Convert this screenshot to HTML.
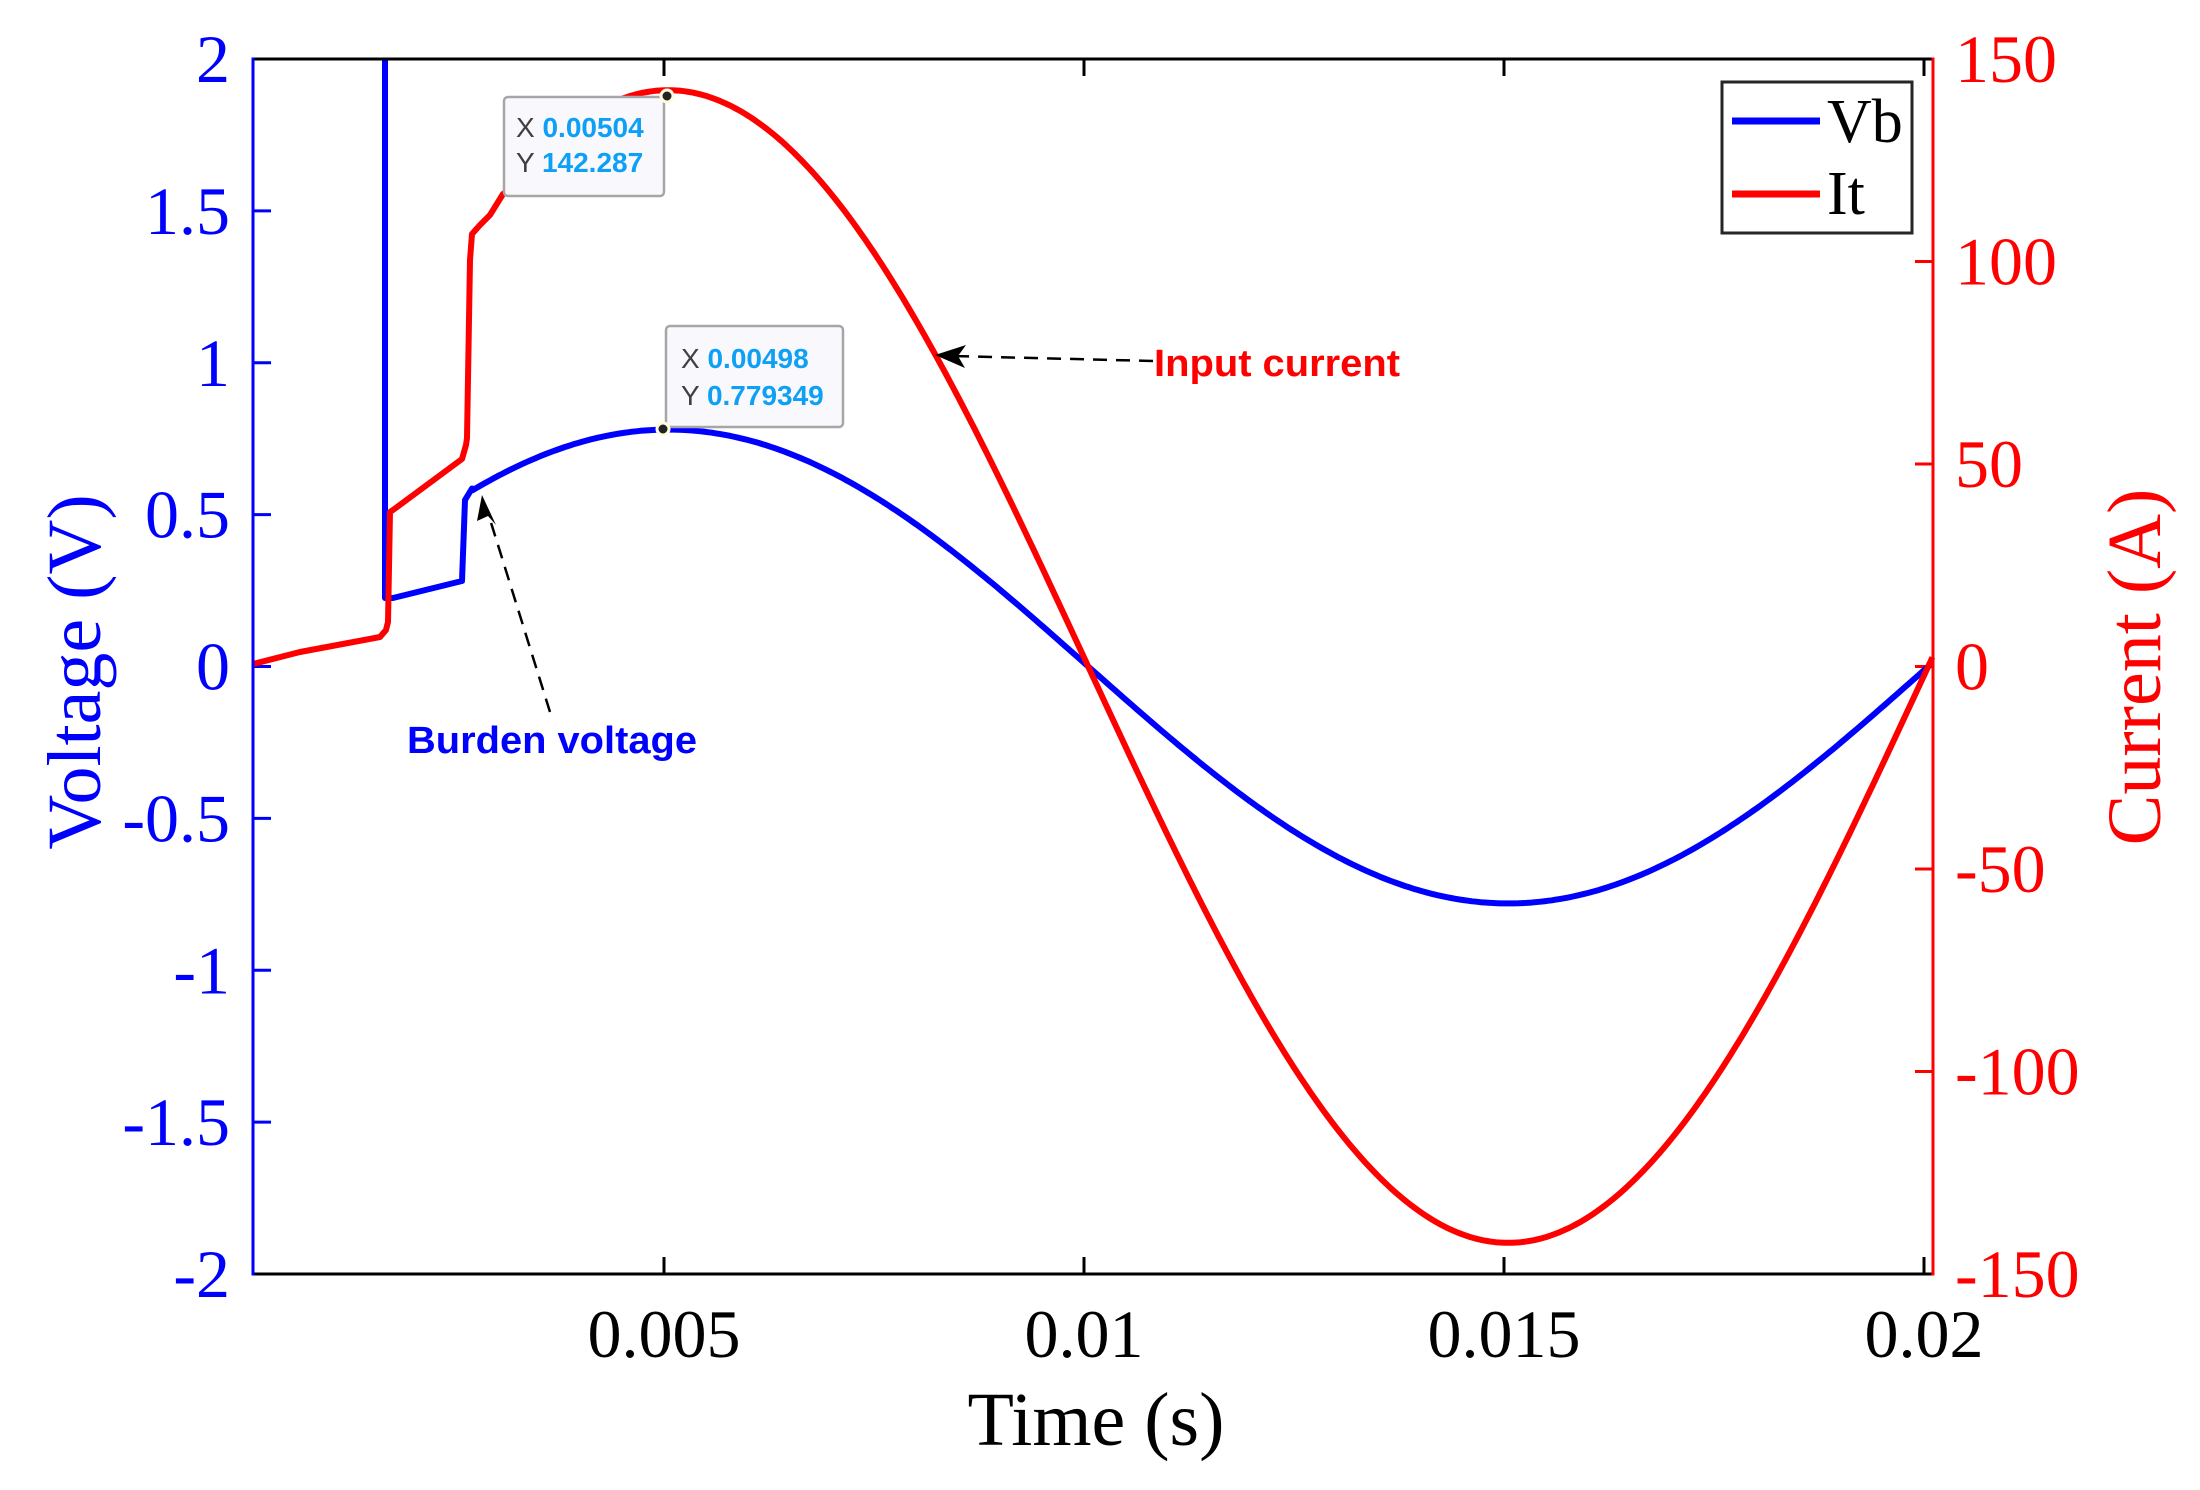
<!DOCTYPE html>
<html><head><meta charset="utf-8"><style>
html,body{margin:0;padding:0;background:#fff;}
svg{display:block;}
.tk{font-family:"Liberation Serif",serif;font-size:68px;}
.lab{font-family:"Liberation Serif",serif;font-size:76px;}
.dt{font-family:"Liberation Sans",sans-serif;font-size:28px;}
.ann{font-family:"Liberation Sans",sans-serif;font-size:38px;font-weight:bold;}
</style></head><body>
<svg id="s" width="2200" height="1490" viewBox="0 0 2200 1490" xmlns="http://www.w3.org/2000/svg">
<rect width="2200" height="1490" fill="#fff"/>
<g id="ticks"></g>
<path id="vb" fill="none" stroke="#0000ff" stroke-width="6" stroke-linejoin="round"/>
<path id="it" fill="none" stroke="#ff0000" stroke-width="6" stroke-linejoin="round"/>
<!-- axes -->
<line x1="253" y1="59" x2="1933" y2="59" stroke="#000" stroke-width="3"/>
<line x1="253" y1="1274" x2="1933" y2="1274" stroke="#000" stroke-width="3"/>
<line x1="253" y1="57.5" x2="253" y2="1275.5" stroke="#0000ff" stroke-width="3"/>
<line x1="1933" y1="57.5" x2="1933" y2="1275.5" stroke="#ff0000" stroke-width="3"/>
<g id="labels"></g>
<text class="lab" x="1096" y="1445" text-anchor="middle" fill="#000">Time (s)</text>
<text class="lab" transform="translate(100,672) rotate(-90)" text-anchor="middle" fill="#0000ff">Voltage (V)</text>
<text class="lab" transform="translate(2160,667) rotate(-90)" text-anchor="middle" fill="#ff0000">Current (A)</text>
<!-- legend -->
<rect x="1722" y="82" width="190" height="151" fill="#fff" stroke="#262626" stroke-width="3"/>
<line x1="1732" y1="121" x2="1820" y2="121" stroke="#0000ff" stroke-width="7"/>
<line x1="1732" y1="194" x2="1820" y2="194" stroke="#ff0000" stroke-width="7"/>
<text class="tk" x="1827" y="142" style="font-size:62px" fill="#000">Vb</text>
<text class="tk" x="1827" y="214" style="font-size:62px" fill="#000">It</text>
<!-- data tips -->
<rect x="504" y="97" width="160" height="99" rx="4" fill="#f8f8fd" stroke="#a6a6a6" stroke-width="2.5"/>
<text class="dt" x="516" y="137" fill="#404040">X <tspan fill="#0ea0f5" font-weight="bold">0.00504</tspan></text>
<text class="dt" x="516" y="172" fill="#404040">Y <tspan fill="#0ea0f5" font-weight="bold">142.287</tspan></text>
<circle cx="667" cy="96" r="6" fill="#222" stroke="#fffbe0" stroke-width="3"/>
<rect x="666" y="326" width="177" height="101" rx="4" fill="#f8f8fd" stroke="#a6a6a6" stroke-width="2.5"/>
<text class="dt" x="681" y="368" fill="#404040">X <tspan fill="#0ea0f5" font-weight="bold">0.00498</tspan></text>
<text class="dt" x="681" y="405" fill="#404040">Y <tspan fill="#0ea0f5" font-weight="bold">0.779349</tspan></text>
<circle cx="663" cy="429" r="6" fill="#222" stroke="#fffbe0" stroke-width="3"/>
<!-- annotations -->
<line x1="1153" y1="361" x2="952" y2="356" stroke="#000" stroke-width="2.5" stroke-dasharray="14,9"/>
<path d="M935,355 L966,345 L958,356 L965,368 Z" fill="#000"/>
<text class="ann" x="1154" y="376" fill="#ff0000" textLength="246" lengthAdjust="spacingAndGlyphs">Input current</text>
<line x1="550" y1="712" x2="488" y2="513" stroke="#000" stroke-width="2.5" stroke-dasharray="14,9"/>
<path d="M482,495 L496,525 L488,516 L477,521 Z" fill="#000"/>
<text class="ann" x="407" y="753" fill="#0000ff" textLength="290" lengthAdjust="spacingAndGlyphs">Burden voltage</text>
</svg>
<script>
(function(){
var NS="http://www.w3.org/2000/svg";
function X(t){return 244+84000*t;}
function YV(v){return 666.5-303.75*v;}
function YI(i){return 666.5-4.05*i;}
var w=2*Math.PI*50, sh=0.00005;
var d="M385,59 L385,598 L393,598 L462,581 L465,500 L472,488.5";
for(var t=0.00272;t<=0.02011;t+=0.00005){d+=" L"+X(t).toFixed(1)+","+YV(0.78*Math.sin(w*(t-sh))).toFixed(1);}
document.getElementById('vb').setAttribute('d',d);
var r="M253,664 L300,652 L380,637 L386,630 L388,622 L390,512 L393,510 L462,459 L466,445 L467,438 L470,260 L472,234 L480,225 L490,215 L503,194";
for(var t=0.00315;t<=0.02011;t+=0.00005){r+=" L"+X(t).toFixed(1)+","+YI(142.3*Math.sin(w*(t-sh))).toFixed(1);}
document.getElementById('it').setAttribute('d',r);
var g=document.getElementById('ticks'), L=document.getElementById('labels');
function ln(x1,y1,x2,y2,c){var e=document.createElementNS(NS,'line');e.setAttribute('x1',x1);e.setAttribute('y1',y1);e.setAttribute('x2',x2);e.setAttribute('y2',y2);e.setAttribute('stroke',c);e.setAttribute('stroke-width',3);g.appendChild(e);}
function tx(x,y,s,c,a){var e=document.createElementNS(NS,'text');e.setAttribute('x',x);e.setAttribute('y',y);e.setAttribute('class','tk');e.setAttribute('fill',c);e.setAttribute('text-anchor',a);e.textContent=s;L.appendChild(e);}
var xt=[[0.005,"0.005"],[0.01,"0.01"],[0.015,"0.015"],[0.02,"0.02"]];
xt.forEach(function(p){var x=X(p[0]);ln(x,1274,x,1257,'#000');ln(x,59,x,76,'#000');tx(x,1357,p[1],'#000','middle');});
var vl=["2","1.5","1","0.5","0","-0.5","-1","-1.5","-2"];
for(var k=0;k<9;k++){var v=2-0.5*k,y=YV(v);ln(253,y,271,y,'#0000ff');tx(230,y+23,vl[k],'#0000ff','end');}
var il=["150","100","50","0","-50","-100","-150"];
for(var k=0;k<7;k++){var i=150-50*k,y=YI(i);ln(1933,y,1915,y,'#ff0000');tx(1955,y+23,il[k],'#ff0000','start');}
})();
</script>
</body></html>
